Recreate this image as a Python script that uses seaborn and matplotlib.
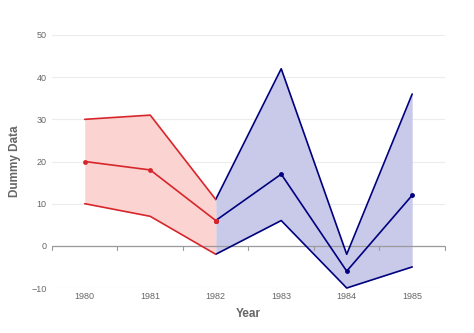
import matplotlib
matplotlib.use("Agg")
import matplotlib.pyplot as plt
import seaborn as sns
import pandas as pd
import numpy as np

years = ["1980", "1981", "1982", "1983", "1984", "1985"]

red_years = ["1980", "1981", "1982"]
red_mean = [20, 18, 6]
red_high = [30, 31, 11]
red_low = [10, 7, -2]

blue_years = ["1982", "1983", "1984", "1985"]
blue_mean = [6, 17, -6, 12]
blue_high = [11, 42, -2, 36]
blue_low = [-2, 6, -10, -5]

sns.set_theme(style="white")
plt.rcParams["font.family"] = ["Liberation Sans", "DejaVu Sans"]

red_line = "#d7262b"
red_fill = "#fbd3d1"
blue_line = "#00007f"
blue_fill = "#c9cae9"
grey_text = "#666666"

pos = {y: i for i, y in enumerate(years)}

rows = []
for name, ys, m, h, l in [("red", red_years, red_mean, red_high, red_low),
                          ("blue", blue_years, blue_mean, blue_high, blue_low)]:
    for y, mv, hv, lv in zip(ys, m, h, l):
        rows.append({"series": name, "x": pos[y], "mean": mv, "high": hv, "low": lv})
df = pd.DataFrame(rows)

fig = plt.figure(figsize=(4.74, 3.33), dpi=100)
ax = fig.add_axes([0.1097, 0.1351, 0.8290, 0.7598])

palette = {"red": red_line, "blue": blue_line}
fills = {"red": red_fill, "blue": blue_fill}

for name in ["blue", "red"]:
    sub = df[df.series == name]
    ax.fill_between(sub.x, sub.low, sub.high, color=fills[name], linewidth=0, zorder=1)

for name in ["blue", "red"]:
    sub = df[df.series == name]
    for col in ["high", "low"]:
        sns.lineplot(data=sub, x="x", y=col, color=palette[name], linewidth=1.2,
                     ax=ax, zorder=3, legend=False)
        ax.lines[-1].set_clip_on(False)
    sns.lineplot(data=sub, x="x", y="mean", color=palette[name], linewidth=1.2,
                 marker="o", markersize=3.5, markeredgewidth=0, ax=ax, zorder=4,
                 legend=False)
    ax.lines[-1].set_clip_on(False)

# mean dot at 1982 drawn in red on top of the blue series
sub = df[(df.series == "red") & (df.x == pos["1982"])]
sns.scatterplot(data=sub, x="x", y="mean", color=red_line, s=14, linewidth=0,
                ax=ax, zorder=5, legend=False)

ax.set_xlim(-0.5, len(years) - 0.5)
ax.set_ylim(-10, 50)
ax.set_yticks(np.arange(-10, 51, 10))
ax.set_xticks(range(len(years)))
ax.set_xticklabels(years)

ax.grid(axis="y", color="#ececec", linewidth=0.8, zorder=0)
ax.set_axisbelow(True)
for s in ax.spines.values():
    s.set_visible(False)

# zero baseline with category boundary ticks
ax.axhline(0, color="#9a9a9a", linewidth=0.9, zorder=2)
for b in np.arange(-0.5, len(years), 1.0):
    ax.plot([b, b], [0, -0.9], color="#9a9a9a", linewidth=0.8, zorder=2, clip_on=False)

ax.tick_params(axis="both", length=0, labelsize=6.5, labelcolor=grey_text)
ax.tick_params(axis="x", pad=3)
ax.tick_params(axis="y", pad=4)

ax.set_xlabel("Year", fontsize=8.5, fontweight="bold", color=grey_text, labelpad=5)
ax.set_ylabel("Dummy Data", fontsize=8.5, fontweight="bold", color=grey_text, labelpad=7)

fig.savefig("out.png", dpi=100, facecolor="white")
